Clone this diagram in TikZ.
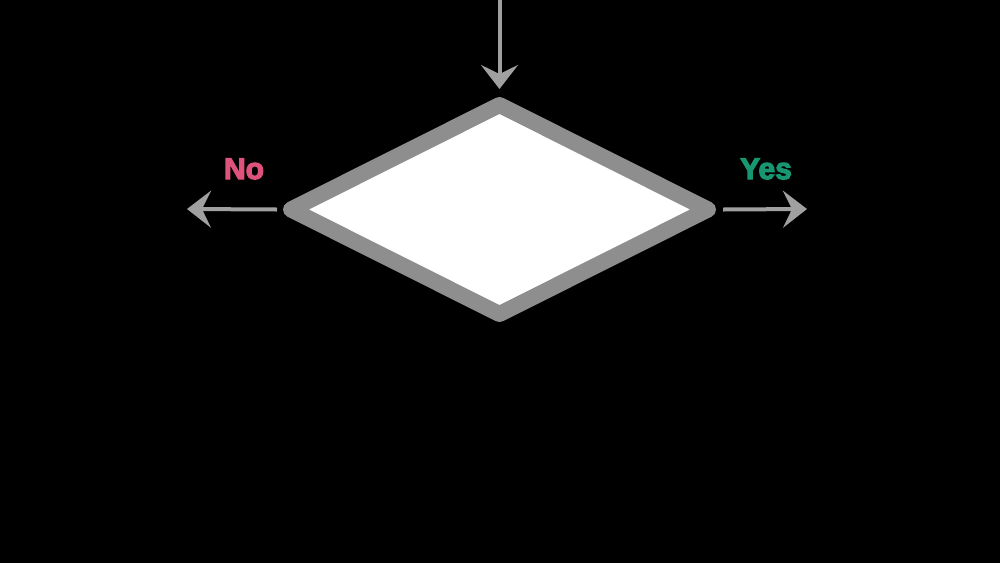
\documentclass[tikz,border=0pt]{standalone}
\usepackage{fontspec}
\setmainfont{Liberation Sans}
\newfontface\heavyfont{Liberation Sans Bold}[FakeBold=4]
\usetikzlibrary{shapes.geometric,arrows.meta}
\definecolor{bordergray}{RGB}{142,142,142}
\definecolor{arrowgray}{RGB}{160,160,160}
\definecolor{nopink}{RGB}{222,82,124}
\definecolor{yesgreen}{RGB}{24,150,114}
\tikzset{
  decision/.style={diamond, draw=bordergray, fill=white, line width=16pt, line join=round,
    inner sep=0pt, outer sep=0pt, minimum width=417pt, minimum height=209pt},
  flowarrow/.style={draw=arrowgray, line width=4pt,
    -{Stealth[length=24pt,width=37pt,inset=9pt]}},
  answer/.style={font=\fontsize{30}{30}\heavyfont, anchor=base, inner sep=0pt}
}
\begin{document}
\begin{tikzpicture}[x=1pt,y=-1pt]
  \fill[black] (0,0) rectangle (1000,563);
  \useasboundingbox (0,0) rectangle (1000,563);
  \node[decision] (d) at (499.5,209.5) {};
  \coordinate (top) at (499.5,-2);
  \coordinate (noend) at (187,209);
  \coordinate (yesend) at (807,209);
  \draw[flowarrow] (top) -- ([yshift=16pt]d.north);
  \draw[flowarrow] ([xshift=-14pt]d.west) -- (noend);
  \draw[flowarrow] ([xshift=15pt]d.east) -- (yesend);
  \node[answer, text=nopink] (no) at (244,179) {No};
  \node[answer, text=yesgreen] (yes) at (766,179) {Yes};
\end{tikzpicture}
\end{document}
